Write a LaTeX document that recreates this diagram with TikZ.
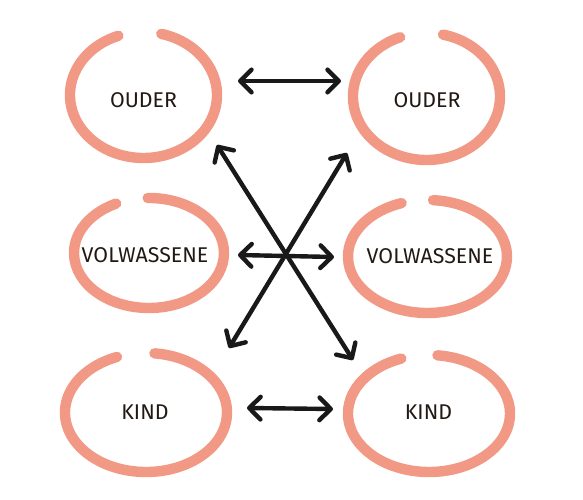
\documentclass[tikz,border=0pt]{standalone}
\usepackage{fontspec}
\setmainfont{Fira Sans}
\usepackage{tikz}
\usepackage{xcolor}
\usetikzlibrary{arrows.meta}

\definecolor{ringcol}{RGB}{241,153,133}
\definecolor{inkcol}{RGB}{35,25,20}

\begin{document}
\begin{tikzpicture}[x=0.75pt,y=0.75pt,yscale=-1,
  ring/.style={draw=ringcol,line width=7.8pt,line cap=round},
  label/.style={text=inkcol,font=\fontsize{16}{18}\selectfont,inner sep=0pt},
  twoway/.style={draw=black!90,line width=3.3pt,line cap=round,
    {Straight Barb[length=8.5pt,width=17pt,round]}-{Straight Barb[length=8.5pt,width=17pt,round]}}]
\useasboundingbox (0,0) rectangle (583,500);
\fill[white] (0,0) rectangle (583,500);

%Shape: Arc
\draw [ring] (143.5,95) ++(-76:73.5 and 63) arc[start angle=-76,end angle=250,x radius=73.5,y radius=63];
%Shape: Arc
\draw [ring] (426.5,96.5) ++(-77:73.5 and 63.5) arc[start angle=-77,end angle=249,x radius=73.5,y radius=63.5];
%Shape: Arc
\draw [ring] (149,253) ++(-91:75 and 55) arc[start angle=-91,end angle=244,x radius=75,y radius=55];
%Shape: Arc
\draw [ring] (427.5,256.5) ++(-86:79.5 and 56.5) arc[start angle=-86,end angle=251,x radius=79.5,y radius=56.5];
%Shape: Arc
\draw [ring] (146,412.5) ++(-84:81 and 59.5) arc[start angle=-84,end angle=249,x radius=81,y radius=59.5];
%Shape: Arc
\draw [ring] (429,413.5) ++(-84:81 and 58.5) arc[start angle=-84,end angle=250,x radius=81,y radius=58.5];

% Text Node
\node [label] (ouderL) at (143.5,100) {OUDER};
% Text Node
\node [label] (ouderR) at (427,100) {OUDER};
% Text Node
\node [label] (volwL) at (145,255) {VOLWASSENE};
% Text Node
\node [label] (volwR) at (430,256) {VOLWASSENE};
% Text Node
\node [label] (kindL) at (145,412) {KIND};
% Text Node
\node [label] (kindR) at (428.5,412) {KIND};

%Arrow ends
\coordinate (topA) at (238,81);
\coordinate (topB) at (341,81);
\coordinate (midA) at (238,255);
\coordinate (midB) at (334,257);
\coordinate (crossA) at (217,145);
\coordinate (crossB) at (353,360);
\coordinate (crossC) at (347,153);
\coordinate (crossD) at (229,348);
\coordinate (botA) at (247,408);
\coordinate (botB) at (333,409);

%Straight Lines
\draw [twoway] (topA) -- (topB);
\draw [twoway] (midA) -- (midB);
\draw [twoway] (crossA) -- (crossB);
\draw [twoway] (crossC) -- (crossD);
\draw [twoway] (botA) -- (botB);

\end{tikzpicture}
\end{document}
